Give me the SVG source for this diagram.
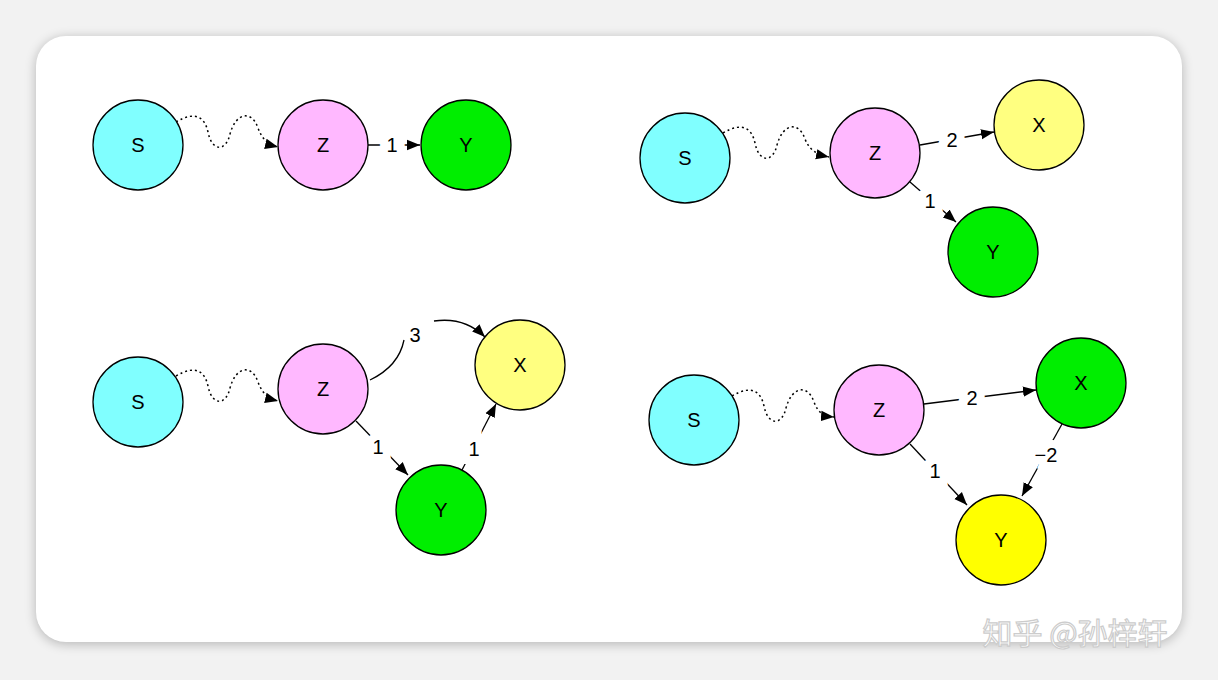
<svg xmlns="http://www.w3.org/2000/svg" width="1218" height="680" viewBox="0 0 1218 680">
<defs>
<filter id="sh" x="-5%" y="-5%" width="110%" height="110%"><feGaussianBlur stdDeviation="6"/></filter>
<marker id="a" viewBox="0 0 10 10" refX="10" refY="5" markerWidth="13" markerHeight="13" markerUnits="userSpaceOnUse" orient="auto"><path d="M0,1 L10,5 L0,9 z" fill="#000"/></marker>
</defs>
<style>
circle{stroke:#000;stroke-width:1.3}
.s{fill:#80ffff}.z{fill:#ffb8ff}.g{fill:#00ee00}.y{fill:#ffff80}.yy{fill:#ffff00}
text{font-family:"Liberation Sans",Arial,sans-serif;font-size:20px;text-anchor:middle;dominant-baseline:central}
.e{fill:none;stroke:#000;stroke-width:1.3;marker-end:url(#a)}
.n{fill:none;stroke:#000;stroke-width:1.3}
.d{fill:none;stroke:#000;stroke-width:1.5;stroke-dasharray:2 3;marker-end:url(#a)}
.l{stroke:#fff;stroke-width:16;paint-order:stroke}
</style>
<rect width="1218" height="680" fill="#f2f2f2"/>
<rect x="36" y="38" width="1146" height="606" rx="30" fill="#000" opacity="0.25" filter="url(#sh)"/>
<rect x="36" y="36" width="1146" height="606" rx="30" fill="#fff"/>
<g id="connectors">
<path class="d" d="M176,122 C196,110 205,118 208,132 C212,152 226,152 230,134 C236,112 252,110 258,128 C262,138 266,144 278,147"/>
<line class="e" x1="368" y1="145" x2="420" y2="145"/><text class="l" x="392" y="145">1</text>
<path class="d" d="M723,133 C743,121 752,129 755,143 C759,163 773,163 777,145 C783,123 799,121 805,139 C809,149 815,154 829,157"/>
<line class="e" x1="920" y1="145" x2="994" y2="132"/><text class="l" x="952" y="140">2</text>
<line class="e" x1="910" y1="182" x2="956" y2="222"/><text class="l" x="930" y="201">1</text>
<path class="d" d="M176,376 C196,364 205,372 208,386 C212,406 226,406 230,388 C236,366 252,364 258,382 C262,392 266,398 278,401"/>
<path class="n" d="M370,380 C395,368 402,350 404,340"/>
<path class="e" d="M434,321 C455,318 472,324 485,337"/><text x="415" y="335">3</text>
<line class="e" x1="356" y1="421" x2="408" y2="475"/><text class="l" x="378" y="447">1</text>
<line class="e" x1="462" y1="470" x2="496" y2="404"/><text class="l" x="474" y="449">1</text>
<path class="d" d="M732,396 C752,384 761,392 764,406 C768,426 782,426 786,408 C792,386 808,384 814,402 C818,412 822,416 834,417"/>
<line class="e" x1="924" y1="404" x2="1036" y2="390"/><text class="l" x="972" y="398">2</text>
<line class="e" x1="910" y1="444" x2="967" y2="505"/><text class="l" x="935" y="471">1</text>
<line class="e" x1="1062" y1="424" x2="1022" y2="496"/><text class="l" x="1046" y="455">−2</text>
</g>
<g id="p1s"><circle class="s" cx="138" cy="145" r="45"/><text x="138" y="145">S</text></g>
<g id="p1z"><circle class="z" cx="323" cy="145" r="45"/><text x="323" y="145">Z</text></g>
<g id="p1y"><circle class="g" cx="466" cy="145" r="45"/><text x="466" y="145">Y</text></g>
<g id="p2s"><circle class="s" cx="685" cy="158" r="45"/><text x="685" y="158">S</text></g>
<g id="p2z"><circle class="z" cx="875" cy="153" r="45"/><text x="875" y="153">Z</text></g>
<g id="p2x"><circle class="y" cx="1039" cy="125" r="45"/><text x="1039" y="125">X</text></g>
<g id="p2y"><circle class="g" cx="993" cy="252" r="45"/><text x="993" y="252">Y</text></g>
<g id="p3s"><circle class="s" cx="138" cy="402" r="45"/><text x="138" y="402">S</text></g>
<g id="p3z"><circle class="z" cx="323" cy="389" r="45"/><text x="323" y="389">Z</text></g>
<g id="p3x"><circle class="y" cx="520" cy="365" r="45"/><text x="520" y="365">X</text></g>
<g id="p3y"><circle class="g" cx="441" cy="510" r="45"/><text x="441" y="510">Y</text></g>
<g id="p4s"><circle class="s" cx="694" cy="420" r="45"/><text x="694" y="420">S</text></g>
<g id="p4z"><circle class="z" cx="879" cy="410" r="45"/><text x="879" y="410">Z</text></g>
<g id="p4x"><circle class="g" cx="1081" cy="383" r="45"/><text x="1081" y="383">X</text></g>
<g id="p4y"><circle class="yy" cx="1001" cy="540" r="45"/><text x="1001" y="540">Y</text></g>
<text x="1075" y="631" style="font-family:'Noto Sans CJK SC',sans-serif;font-size:30px;fill:#fff;stroke:#ccc;stroke-width:1.2">知乎 @孙梓轩</text>
</svg>
